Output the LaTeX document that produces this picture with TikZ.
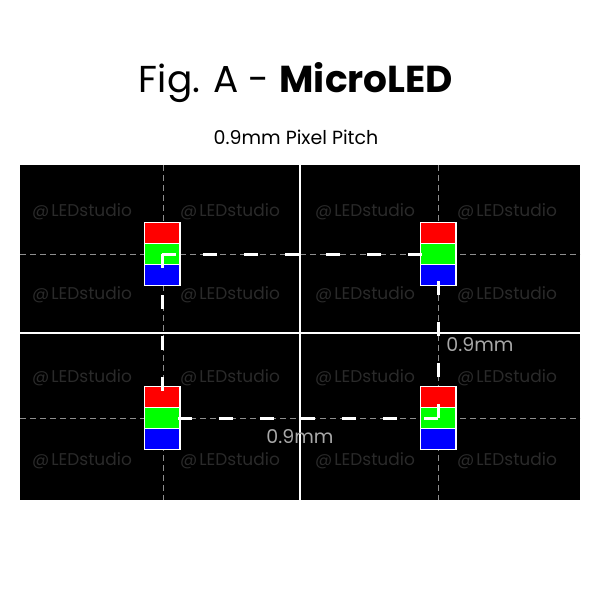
\documentclass[tikz,border=0pt]{standalone}
\usepackage{fontspec}
\setmainfont{Poppins}
\usetikzlibrary{positioning}
\definecolor{wmgray}{HTML}{2A2A2A}
\definecolor{labelgray}{HTML}{A8A8A8}
\definecolor{guidegray}{HTML}{8E8E8E}
\definecolor{ledred}{HTML}{FF0000}
\definecolor{ledgreen}{HTML}{00FF00}
\definecolor{ledblue}{HTML}{0000FF}

\begin{document}
\begin{tikzpicture}[x=1pt, y=-1pt,
    sub/.style={draw=white, line width=1.5pt, minimum width=35.5pt,
      minimum height=21pt, inner sep=0pt, outer sep=0pt},
    wmark/.style={text=wmgray, font=\fontsize{17}{19}\selectfont},
    pitch/.style={draw=white, line width=3pt, dash pattern=on 14pt off 27pt},
    guide/.style={draw=guidegray, line width=0.6pt, dash pattern=on 6pt off 4pt},
    split/.style={draw=white, line width=1.6pt},
    dim/.style={text=labelgray, font=\fontsize{19}{21}\selectfont}]
  \useasboundingbox (0,0) rectangle (600,600);
  \fill[white] (0,0) rectangle (600,600);
  % titles
  \node (title) at (296,83) {\fontsize{37.5}{40}\selectfont Fig. A - \textbf{MicroLED}};
  \node (sub) at (296,137) {\fontsize{19}{21}\selectfont 0.9mm Pixel Pitch};
  % panel
  \fill[black] (20,165) rectangle (580,500);
  \foreach \y in {212,295,378,461}
    \foreach \x in {82,230,365,507}
      \node[wmark] at (\x,\y) {@\hspace{2pt}LEDstudio};
  \draw[guide] (163,165) -- (163,500);
  \draw[guide] (438,165) -- (438,500);
  \draw[guide] (20,254) -- (580,254);
  \draw[guide] (20,418) -- (580,418);
  \draw[split] (300,165) -- (300,500);
  \draw[split] (20,333) -- (580,333);
  % pixels
  \foreach \n/\x/\y in {ul/162/254, ur/438/254, ll/162/418, lr/438/418} {
    \node[sub, fill=ledgreen] (\n g) at (\x,\y) {};
    \node[sub, fill=ledred, above=0pt of \n g] (\n r) {};
    \node[sub, fill=ledblue, below=0pt of \n g] (\n b) {};
  }
  % pitch
  \path[pitch] (ulg.center) edge (urg.center) edge (llg.center)
    (lrg.center) edge (urg.center) edge (llg.center);
  \node[dim] (pitchv) at (480,345) {0.9mm};
  \node[dim] (pitchh) at (300,437) {0.9mm};
\end{tikzpicture}
\end{document}
